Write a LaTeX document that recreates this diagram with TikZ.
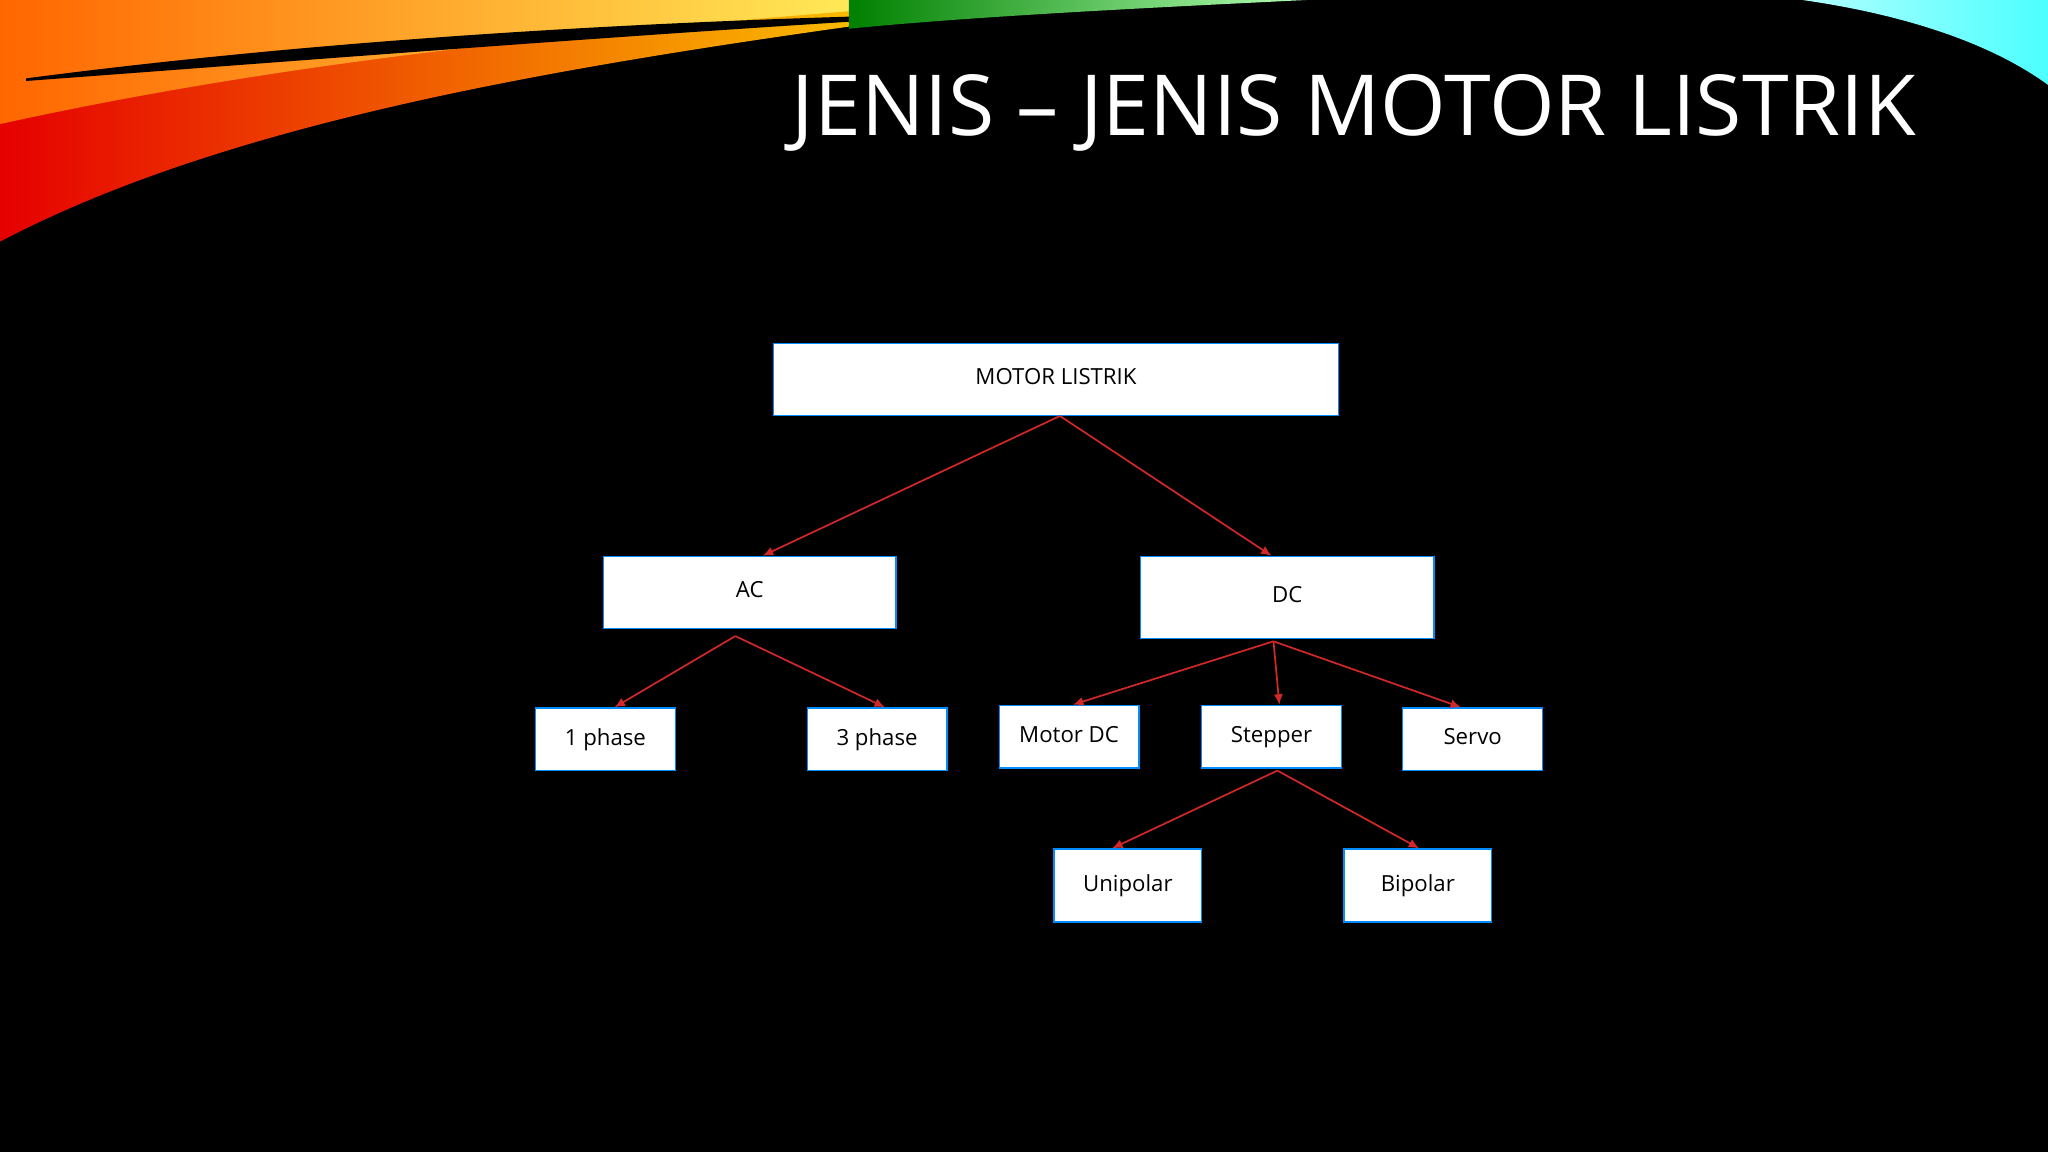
\documentclass[tikz,border=0pt]{standalone}
\usepackage{fontspec}
\setmainfont{Open Sans}
\usetikzlibrary{arrows.meta}
\begin{document}
\begin{tikzpicture}[x=1pt,y=-1pt,
 box/.style={draw=blue!45!cyan,line width=1pt,fill=white,inner sep=0pt,font=\fontsize{17}{20}\selectfont},
 arr/.style={draw={rgb,255:red,210;green,40;blue,40},line width=1.3pt,-{Latex[length=8pt,width=7pt]}}]
\fill[black] (0,0) rectangle (1568,882);
\useasboundingbox (0,0) rectangle (1568,882);
% swooshes
\shade[left color=red!90!black,right color=yellow!80!orange] (0,0) -- (800,0) .. controls (500,40) and (200,80) .. (0,185) -- cycle;
\shade[left color=orange!80!red,right color=yellow!60!white] (0,0) -- (760,0) .. controls (500,20) and (250,40) .. (0,95) -- cycle;
\fill[black] (20,60) .. controls (250,30) and (500,15) .. (760,10) .. controls (500,25) and (250,45) .. (20,62) -- cycle;
\shade[left color=green!50!black,right color=green!30!white] (650,0) -- (1000,0) .. controls (900,5) and (750,12) .. (650,22) -- cycle;
\shade[left color=cyan!30!white,right color=cyan!70!white] (1380,0) -- (1568,0) -- (1568,65) .. controls (1520,30) and (1450,10) .. (1380,0) -- cycle;
\node[anchor=base east,text=white,font=\fontsize{64.5}{66}\selectfont,inner sep=0pt] (title) at (1467,104) {JENIS – JENIS MOTOR LISTRIK};
\def\bx#1#2#3#4#5#6{\node[box,minimum width=#4-#2,minimum height=#5-#3] (#1) at ({(#2+#4)/2},{(#3+#5)/2}) {\raisebox{4pt}{#6}};}
\bx{ml}{592}{263}{1025}{318}{MOTOR LISTRIK}
\bx{ac}{462}{426}{686}{481}{AC}
\bx{dc}{873}{426}{1098}{489}{DC}
\bx{p1}{410}{542}{517}{590}{1 phase}
\bx{p3}{618}{542}{725}{590}{3 phase}
\bx{mdc}{765}{540}{872}{588}{Motor DC}
\bx{st}{920}{540}{1027}{588}{Stepper}
\bx{sv}{1074}{542}{1181}{590}{Servo}
\bx{uni}{807}{650}{920}{706}{Unipolar}
\bx{bi}{1029}{650}{1142}{706}{Bipolar}
\coordinate (a0) at (563,487);
\coordinate (d0) at (975,491);
\coordinate (s0) at (978,590);
\draw[arr] (ml.south) ++(3,0) -- ([xshift=10pt]ac.north);
\draw[arr] (ml.south) ++(3,0) -- ([xshift=-12pt]dc.north);
\draw[arr] (a0) -- ([xshift=7pt]p1.north);
\draw[arr] (a0) -- ([xshift=6pt]p3.north);
\draw[arr] (d0) -- ([xshift=3pt]mdc.north);
\draw[arr] (d0) -- ([xshift=6pt]st.north);
\draw[arr] (d0) -- ([xshift=-9pt]sv.north);
\draw[arr] (s0) -- ([xshift=-12pt]uni.north);
\draw[arr] (s0) -- ([xshift=1pt]bi.north);
\end{tikzpicture}
\end{document}
